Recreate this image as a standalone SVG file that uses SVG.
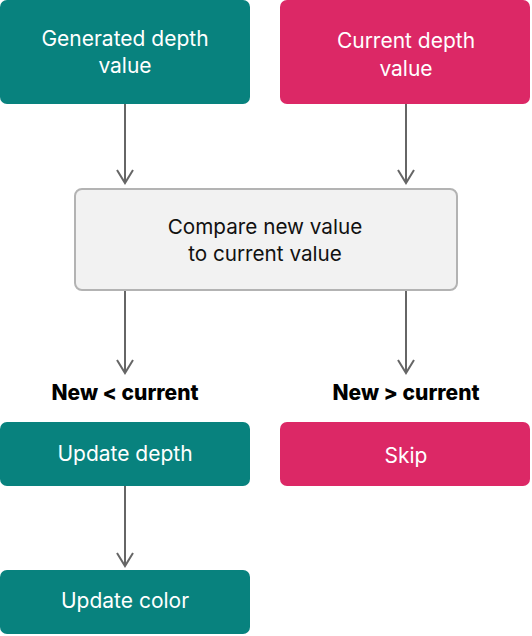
<svg xmlns="http://www.w3.org/2000/svg" width="532" height="636" viewBox="0 0 532 636">
<style>
.teal{fill:#08827e}
.pink{fill:#dc2866}
.gray{fill:#f2f2f2;stroke:#b3b3b3;stroke-width:2}
.wt{font-family:Inter,"Liberation Sans",sans-serif;font-size:21px;fill:#ffffff;text-anchor:middle}
.dt{font-family:Inter,"Liberation Sans",sans-serif;font-size:20.7px;fill:#111111;text-anchor:middle}
.lb{font-family:Inter,"Liberation Sans",sans-serif;font-size:21px;font-weight:800;fill:#000000;text-anchor:middle}
.ln{stroke:#666666;stroke-width:2;fill:none}
</style>
<g id="connectors">
<path class="ln" d="M125,104 V183"/>
<path class="ln" d="M406,104 V183"/>
<path class="ln" d="M125,291 V373"/>
<path class="ln" d="M406,291 V373"/>
<path class="ln" d="M125,486 V566"/>
<path class="ln" d="M117,170 L125,183 L133,170"/>
<path class="ln" d="M398,170 L406,183 L414,170"/>
<path class="ln" d="M117,360 L125,373 L133,360"/>
<path class="ln" d="M398,360 L406,373 L414,360"/>
<path class="ln" d="M117,553 L125,566 L133,553"/>
</g>
<g id="generated">
<rect class="teal" x="0" y="0" width="250" height="104" rx="7"/>
<text class="wt" x="125" y="46">Generated depth</text>
<text class="wt" x="125" y="73">value</text>
</g>
<g id="current">
<rect class="pink" x="280" y="0" width="250" height="104" rx="7"/>
<text class="wt" x="406" y="48">Current depth</text>
<text class="wt" x="406" y="76">value</text>
</g>
<g id="compare">
<rect class="gray" x="75" y="189" width="382" height="101" rx="7"/>
<text class="dt" x="265" y="234">Compare new value</text>
<text class="dt" x="265" y="261">to current value</text>
</g>
<g id="label-less">
<text class="lb" x="125" y="400">New &lt; current</text>
</g>
<g id="label-greater">
<text class="lb" x="406" y="400">New &gt; current</text>
</g>
<g id="update-depth">
<rect class="teal" x="0" y="422" width="250" height="64" rx="7"/>
<text class="wt" x="125" y="461">Update depth</text>
</g>
<g id="skip">
<rect class="pink" x="280" y="422" width="250" height="64" rx="7"/>
<text class="wt" x="406" y="463">Skip</text>
</g>
<g id="update-color">
<rect class="teal" x="0" y="570" width="250" height="64" rx="7"/>
<text class="wt" x="125" y="608">Update color</text>
</g>
</svg>
